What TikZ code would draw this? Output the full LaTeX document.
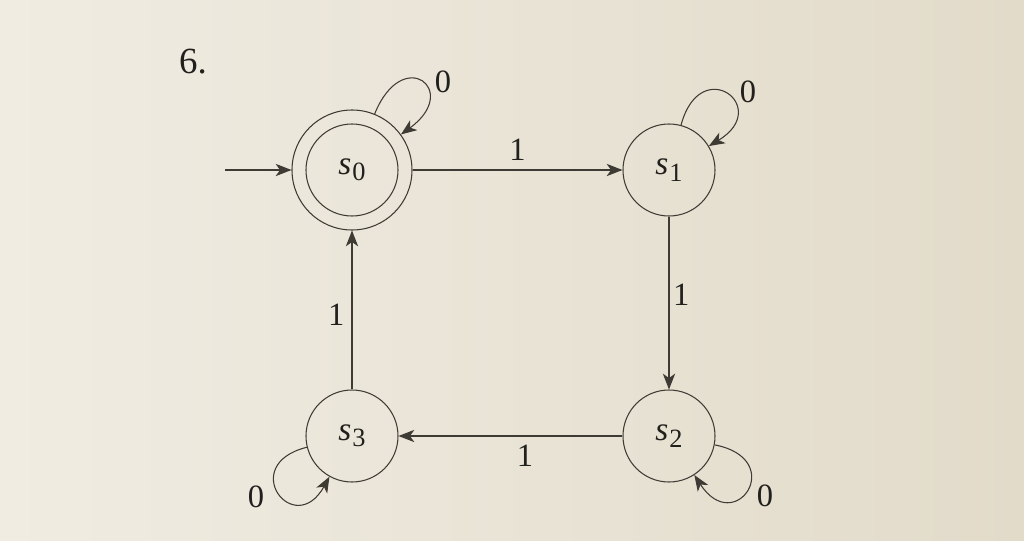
\documentclass[tikz,border=0pt]{standalone}
\usepackage{fontspec}
\setmainfont{Liberation Serif}[Ligatures=TeX]
\usetikzlibrary{arrows.meta}
\definecolor{paper}{RGB}{240,236,226}
\definecolor{paperdark}{RGB}{226,219,202}
\definecolor{ink}{RGB}{62,58,52}
\newfontfamily\booktype{Liberation Serif}
\newcommand{\sname}[1]{{\itshape s}\kern0.03em\raisebox{-3.6pt}{\fontsize{15}{17}\selectfont #1}}
\tikzset{
  state/.style={circle,draw=ink,line width=0.6pt,minimum size=1.84cm,inner sep=0pt,text=ink!55!black,font=\booktype\fontsize{19}{22}\selectfont},
  trans/.style={draw=ink,line width=0.6pt,-{Stealth[length=9pt,width=7pt,inset=2.5pt]}},
  lbl/.style={text=ink!55!black,font=\booktype\fontsize{18.5}{21}\selectfont,inner sep=1pt}
}
\begin{document}
\begin{tikzpicture}
\shade[left color=paper,right color=paperdark] (0,0) rectangle (20.48,-10.82);
\useasboundingbox (0,0) rectangle (20.48,-10.82);
\node[lbl,font=\booktype\fontsize{21}{24}\selectfont] (num) at (3.86,-1.24) {6.};
\node[state,minimum size=2.4cm] (s0) at (7.04,-3.4) {};
\node[state] (s0in) at (s0) {\sname{0}};
\node[state] (s1) at (13.38,-3.4) {\sname{1}};
\node[state] (s2) at (13.38,-8.72) {\sname{2}};
\node[state] (s3) at (7.04,-8.72) {\sname{3}};
\coordinate (init) at (4.5,-3.4);
\draw[trans] (init) -- (s0);
\draw[trans] (s0) -- node[lbl,above=4pt] (e01) {1} (s1);
\draw[trans] (s1) -- node[lbl,right=1pt,pos=0.45] (e12) {1} (s2);
\draw[trans] (s2) -- node[lbl,below=4pt,pos=0.435] (e23) {1} (s3);
\draw[trans] (s3) -- node[lbl,left=3pt,pos=0.47] (e30) {1} (s0);
\draw[trans] (s0.68) .. controls +(68:1.5) and +(36:1.5) .. (s0.36);
\draw[trans] (s1.75) .. controls +(75:1.5) and +(31:1.5) .. (s1.31);
\draw[trans] (s2.-11) .. controls +(-11:1.5) and +(-57:1.5) .. (s2.-57);
\draw[trans] (s3.194) .. controls +(194:1.45) and +(241:1.45) .. (s3.241);
\node[lbl] (l0) at (8.86,-1.64) {0};
\node[lbl] (l1) at (14.96,-1.84) {0};
\node[lbl] (l2) at (15.3,-9.92) {0};
\node[lbl] (l3) at (5.12,-9.94) {0};
\end{tikzpicture}
\end{document}
